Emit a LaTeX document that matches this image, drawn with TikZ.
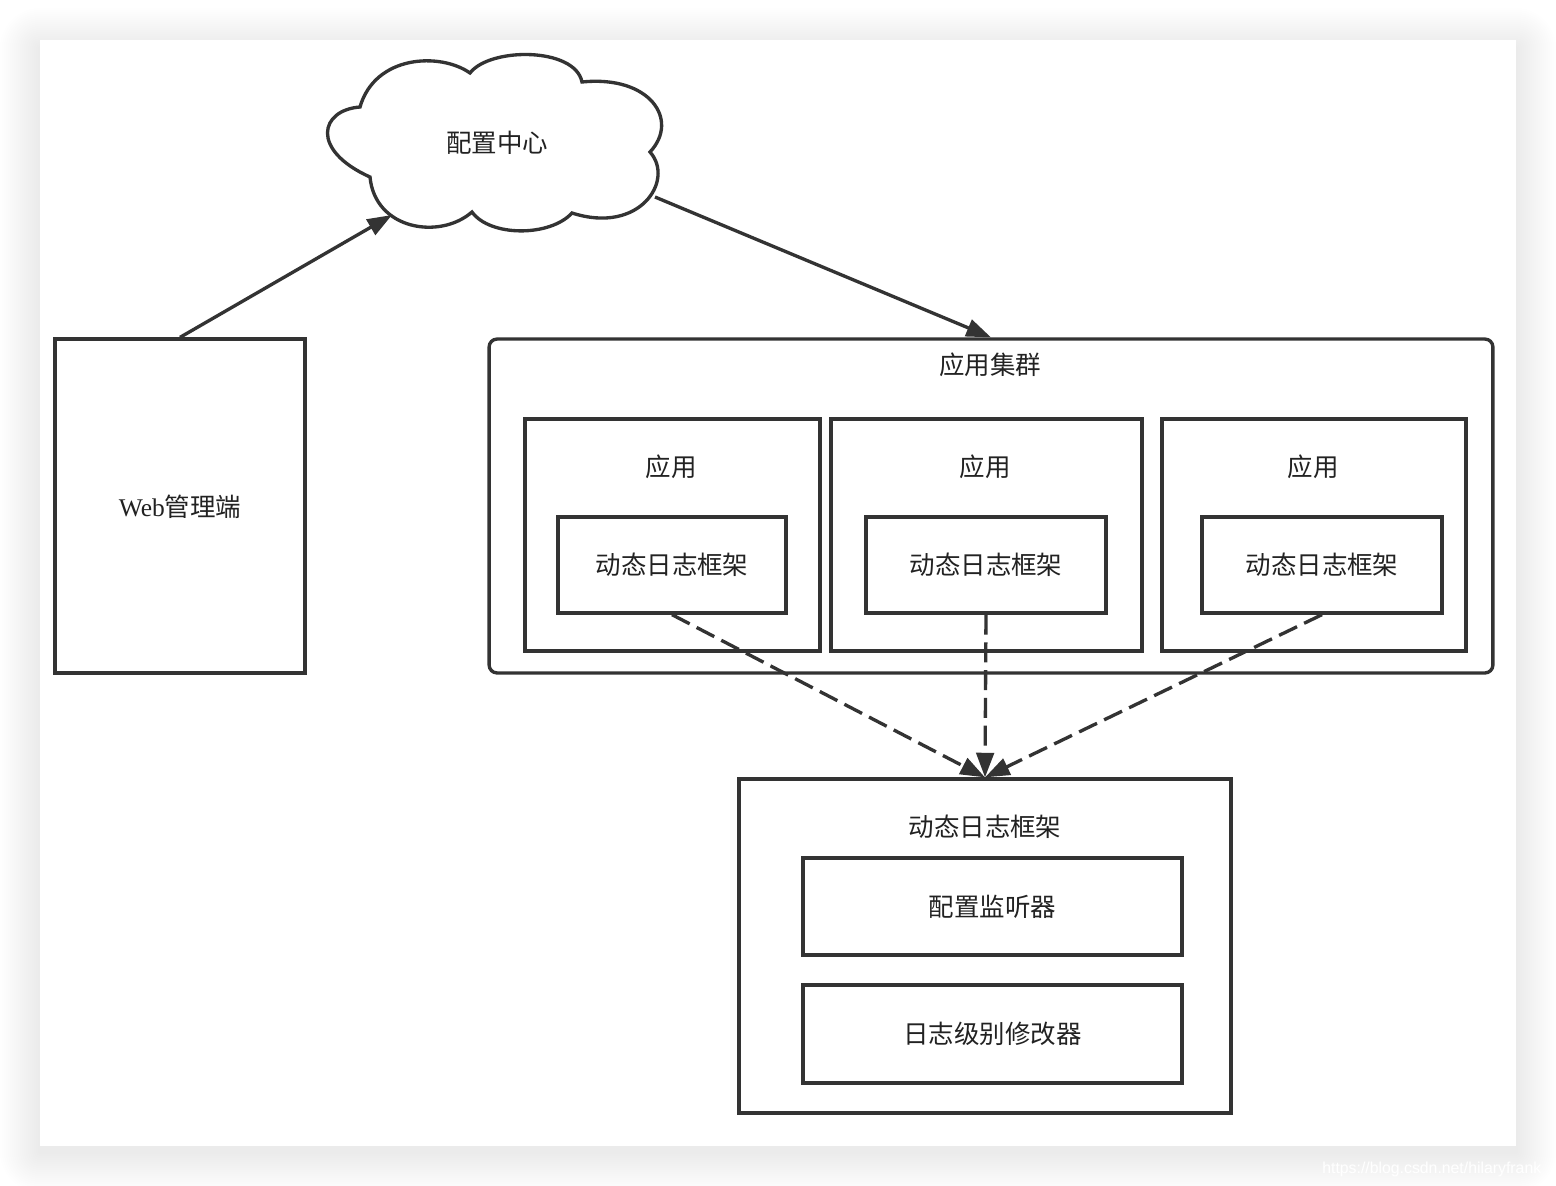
\documentclass[tikz,border=0pt]{standalone}
\usepackage{fontspec}
\setmainfont{Liberation Serif}
\newfontfamily\cjk{Noto Sans CJK SC}
\newfontfamily\marksf{Liberation Sans}
\usetikzlibrary{arrows.meta}
\definecolor{linegray}{HTML}{333333}
\definecolor{textgray}{HTML}{222222}

\begin{document}
\begin{tikzpicture}[x=0.02cm,y=-0.02cm,
	box/.style={draw=linegray,line width=1.9pt,fill=white,inner sep=0pt},
	lbl/.style={text=textgray,inner sep=0pt,font=\cjk\fontsize{14.5pt}{17pt}\selectfont},
	arr/.style={draw=linegray,line width=1.9pt,-{Triangle[length=14pt,width=10pt]}},
	darr/.style={arr,dash pattern=on 11.3pt off 4.5pt}]
	\useasboundingbox (0,0) rectangle (1556,1186);
	
	% card and its shadow
	\foreach \r in {2,4,...,40}
		\fill[black,opacity=0.005,rounded corners=\r*0.02cm] (40-\r,48-\r) rectangle (1516+\r,1152+\r);
	\fill[white] (40,40) rectangle (1516,1146);
	\node[text=white,anchor=base west,inner sep=0pt,font=\marksf\fontsize{9pt}{11pt}\selectfont] (mark) at (1322,1173) {https://blog.csdn.net/hilaryfrank};
	
	% config center
	\draw[linegray,line width=1.9pt,fill=white] (360,107) .. controls (375,55) and (440,52) .. (470,73)
		.. controls (490,47) and (575,47) .. (582,82)
		.. controls (650,75) and (680,120) .. (650,152)
		.. controls (675,180) and (640,235) .. (572,213)
		.. controls (550,237) and (490,237) .. (472,212)
		.. controls (440,240) and (375,230) .. (370,177)
		.. controls (310,150) and (320,110) .. (360,107) -- cycle;
	\node[lbl] (cloud) at (497,143) {配置中心};
	\coordinate (cloudin) at (392,215);
	\coordinate (cloudout) at (655,197);
	
	\node[box,minimum width=5cm,minimum height=6.68cm] (web) at (180,506) {};
	\node[lbl] (weblbl) at (180,507) {\rmfamily Web\cjk 管理端};
	
	% application cluster
	\node[box,rounded corners=0.16cm,minimum width=20.08cm,minimum height=6.68cm] (cluster) at (991,506) {};
	\node[lbl] (clusterlbl) at (990,365) {应用集群};
	
	\node[box,minimum width=5.9cm,minimum height=4.64cm] (app1) at (672.5,535) {};
	\node[box,minimum width=6.22cm,minimum height=4.64cm] (app2) at (986.5,535) {};
	\node[box,minimum width=6.08cm,minimum height=4.64cm] (app3) at (1314,535) {};
	\node[lbl] (app1lbl) at (671,467) {应用};
	\node[lbl] (app2lbl) at (985,467) {应用};
	\node[lbl] (app3lbl) at (1313,467) {应用};
	
	\node[box,lbl,minimum width=4.56cm,minimum height=1.92cm] (fw1) at (672,565) {动态日志框架};
	\node[box,lbl,minimum width=4.8cm,minimum height=1.92cm] (fw2) at (986,565) {动态日志框架};
	\node[box,lbl,minimum width=4.8cm,minimum height=1.92cm] (fw3) at (1322,565) {动态日志框架};
	
	% dynamic log framework
	\node[box,minimum width=9.84cm,minimum height=6.68cm] (core) at (985,946) {};
	\node[lbl] (corelbl) at (985,827) {动态日志框架};
	\node[box,lbl,minimum width=7.58cm,minimum height=1.94cm] (listener) at (992.5,906.5) {配置监听器};
	\node[box,lbl,minimum width=7.58cm,minimum height=1.96cm] (modifier) at (992.5,1034) {日志级别修改器};
	
	\draw[arr] (web.north) -- (cloudin);
	\draw[arr] (cloudout) -- (cluster.north);
	\draw[darr] (fw1.south) -- (core.north);
	\draw[darr] (fw2.south) -- (core.north);
	\draw[darr] (fw3.south) -- (core.north);
\end{tikzpicture}
\end{document}
